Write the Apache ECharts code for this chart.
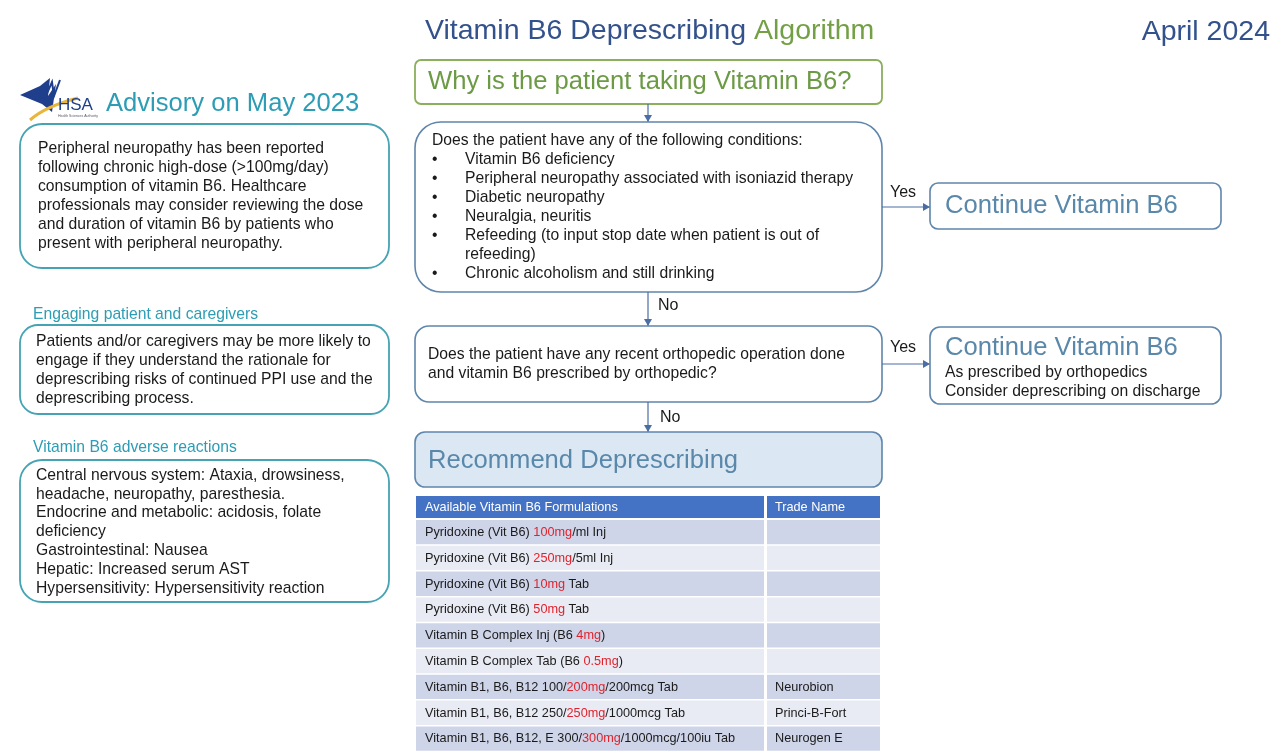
<!DOCTYPE html>
<html><head><meta charset="utf-8">
<script src="https://cdn.jsdelivr.net/npm/echarts@6/dist/echarts.min.js"></script>
<style>html,body{margin:0;padding:0;background:#fff}#c{width:1280px;height:756px}</style>
</head><body><div id="c"></div>
<script>
// ---------- DATA (text content) ----------
const titleMain = "Vitamin B6 Deprescribing";
const titleAccent = "Algorithm";
const dateLabel = "April 2024";
const startQuestion = "Why is the patient taking Vitamin B6?";
const q1Intro = "Does the patient have any of the following conditions:";
const q1Conditions = [
  ["Vitamin B6 deficiency"],
  ["Peripheral neuropathy associated with isoniazid therapy"],
  ["Diabetic neuropathy"],
  ["Neuralgia, neuritis"],
  ["Refeeding (to input stop date when patient is out of", "refeeding)"],
  ["Chronic alcoholism and still drinking"]
];
const q2Lines = ["Does the patient have any recent orthopedic operation done", "and vitamin B6 prescribed by orthopedic?"];
const branchYes = "Yes";
const branchNo = "No";
const continueTitle = "Continue Vitamin B6";
const continueNotes = ["As prescribed by orthopedics", "Consider deprescribing on discharge"];
const recommendText = "Recommend Deprescribing";
const tableHeader = ["Available Vitamin B6 Formulations", "Trade Name"];
const formulations = [
  ["Pyridoxine (Vit B6) ", "100mg", "/ml Inj"],
  ["Pyridoxine (Vit B6) ", "250mg", "/5ml Inj"],
  ["Pyridoxine (Vit B6) ", "10mg", " Tab"],
  ["Pyridoxine (Vit B6) ", "50mg", " Tab"],
  ["Vitamin B Complex Inj (B6 ", "4mg", ")"],
  ["Vitamin B Complex Tab (B6 ", "0.5mg", ")"],
  ["Vitamin B1, B6, B12 100/", "200mg", "/200mcg Tab"],
  ["Vitamin B1, B6, B12 250/", "250mg", "/1000mcg Tab"],
  ["Vitamin B1, B6, B12, E 300/", "300mg", "/1000mcg/100iu Tab"]
];
const tradeNames = ["", "", "", "", "", "", "Neurobion", "Princi-B-Fort", "Neurogen E"];
const logoText = "HSA";
const logoSub = "Health Sciences Authority";
const advisoryTitle = "Advisory on May 2023";
const advisoryLines = [
  "Peripheral neuropathy has been reported",
  "following chronic high-dose (>100mg/day)",
  "consumption of vitamin B6. Healthcare",
  "professionals may consider reviewing the dose",
  "and duration of vitamin B6 by patients who",
  "present with peripheral neuropathy."
];
const engagingTitle = "Engaging patient and caregivers";
const engagingLines = [
  "Patients and/or caregivers may be more likely to",
  "engage if they understand the rationale for",
  "deprescribing risks of continued PPI use and the",
  "deprescribing process."
];
const adverseTitle = "Vitamin B6 adverse reactions";
const adverseLines = [
  "Central nervous system: Ataxia, drowsiness,",
  "headache, neuropathy, paresthesia.",
  "Endocrine and metabolic: acidosis, folate",
  "deficiency",
  "Gastrointestinal: Nausea",
  "Hepatic: Increased serum AST",
  "Hypersensitivity: Hypersensitivity reaction"
];

// ---------- STYLE / LAYOUT ----------
const FONT = '"Liberation Sans", Arial, sans-serif';
const C = {
  navy: '#33528c', green: '#74a045', greenBox: '#8caf5e', greenText: '#6c9a45',
  blueBox: '#5f86ab', contText: '#5a88aa', teal: '#2c9db4', tealBox: '#45a3b3',
  ink: '#1a1a1a', arrow: '#4a6ea3', head: '#4472c4', rowA: '#cfd5e9', rowB: '#e8ebf4',
  red: '#e0222c', recFill: '#dbe8f4'
};
const BODY = 15.7, BIG = 25.6, TAB = 12.7;

const g = [];
function rrect(x, y, w, h, r, stroke, fill, lw) {
  g.push({type: 'rect', shape: {x, y, width: w, height: h, r}, style: {fill: fill || '#fff', stroke, lineWidth: lw || 1.6}});
}
function txt(x, y, text, size, color, extra) {
  g.push({type: 'text', x, y, style: Object.assign({text, font: size + 'px ' + FONT, fill: color, verticalAlign: 'middle', align: 'left'}, extra || {})});
}
function arrow(x1, y1, x2, y2) {
  g.push({type: 'line', shape: {x1, y1, x2, y2}, style: {stroke: C.arrow, lineWidth: 1.2}});
  let pts;
  if (x1 === x2) pts = [[x2 - 4, y2 - 7], [x2 + 4, y2 - 7], [x2, y2]];
  else pts = [[x2 - 7, y2 - 4], [x2 - 7, y2 + 4], [x2, y2]];
  g.push({type: 'polygon', shape: {points: pts}, style: {fill: C.arrow}});
}

// Title
g.push({type: 'text', x: 425, y: 31, style: {
  text: '{a|' + titleMain + ' }{b|' + titleAccent + '}', verticalAlign: 'middle', align: 'left',
  rich: {a: {fill: C.navy, font: '28.5px ' + FONT}, b: {fill: C.green, font: '28.5px ' + FONT}}
}});
txt(1270, 32, dateLabel, 28.5, C.navy, {align: 'right'});

// Start box
rrect(415, 60, 467, 44, 6, C.greenBox, '#fff', 1.8);
txt(428, 82, startQuestion, BIG, C.greenText);
arrow(648, 104, 648, 122);

// Question 1
rrect(415, 122, 467, 170, 26, C.blueBox, '#fff', 1.6);
txt(432, 141, q1Intro, BODY, C.ink);
let yy = 159.5;
q1Conditions.forEach(c => {
  txt(432, yy, '•', BODY, C.ink);
  c.forEach(line => { txt(465, yy, line, BODY, C.ink); yy += 19; });
});

// Yes 1
arrow(882, 207, 930, 207);
txt(890, 193, branchYes, 16, C.ink);
rrect(930, 183, 291, 46, 8, C.blueBox, '#fff', 1.6);
txt(945, 206, continueTitle, BIG, C.contText);

// No 1
arrow(648, 292, 648, 326);
txt(658, 306, branchNo, 16, C.ink);

// Question 2
rrect(415, 326, 467, 76, 14, C.blueBox, '#fff', 1.6);
q2Lines.forEach((l, i) => txt(428, 355 + i * 19, l, BODY, C.ink));

// Yes 2
arrow(882, 364, 930, 364);
txt(890, 348, branchYes, 16, C.ink);
rrect(930, 327, 291, 77, 10, C.blueBox, '#fff', 1.6);
txt(945, 348, continueTitle, BIG, C.contText);
continueNotes.forEach((l, i) => txt(945, 373 + i * 18.5, l, BODY, C.ink));

// No 2
arrow(648, 402, 648, 432);
txt(660, 418, branchNo, 16, C.ink);

// Recommend
rrect(415, 432, 467, 55, 10, C.blueBox, C.recFill, 1.6);
txt(428, 461, recommendText, BIG, C.contText);

// Table
const tx1 = 416, tw1 = 348, tx2 = 767, tw2 = 113;
g.push({type: 'rect', shape: {x: tx1, y: 496, width: tw1, height: 22}, style: {fill: C.head}});
g.push({type: 'rect', shape: {x: tx2, y: 496, width: tw2, height: 22}, style: {fill: C.head}});
txt(425, 507.5, tableHeader[0], TAB, '#fff');
txt(775, 507.5, tableHeader[1], TAB, '#fff');
const rowH = 25.8, row0 = 520;
formulations.forEach((f, i) => {
  const y = row0 + i * rowH;
  const fill = i % 2 === 0 ? C.rowA : C.rowB;
  g.push({type: 'rect', shape: {x: tx1, y, width: tw1, height: rowH - 1.5}, style: {fill}});
  g.push({type: 'rect', shape: {x: tx2, y, width: tw2, height: rowH - 1.5}, style: {fill}});
  g.push({type: 'text', x: 425, y: y + rowH / 2 - 0.5, style: {
    text: '{n|' + f[0] + '}{r|' + f[1] + '}{n|' + f[2] + '}',
    verticalAlign: 'middle', align: 'left',
    rich: {n: {fill: C.ink, font: TAB + 'px ' + FONT}, r: {fill: C.red, font: TAB + 'px ' + FONT}}
  }});
  if (tradeNames[i]) txt(775, y + rowH / 2 - 0.5, tradeNames[i], TAB, C.ink);
});

// Logo
g.push({type: 'polygon', shape: {points: [[20, 95], [40, 86], [50, 78], [48, 96], [56, 84], [52, 112], [42, 104]]}, style: {fill: '#1f3f8c'}});
g.push({type: 'polyline', shape: {points: [[44, 100], [52, 82], [54, 96], [60, 80]]}, style: {stroke: '#1f3f8c', lineWidth: 2, fill: null}});
g.push({type: 'bezierCurve', shape: {x1: 30, y1: 120, x2: 78, y2: 98, cpx1: 46, cpy1: 106}, style: {stroke: '#e9b53a', lineWidth: 3, fill: null}});
txt(58, 105, logoText, 17, '#1f3f8c');
txt(58, 116, logoSub, 3.5, '#556');

// Left panels
txt(106, 104, advisoryTitle, BIG, C.teal);
rrect(20, 124, 369, 144, 22, C.tealBox, '#fff', 1.8);
advisoryLines.forEach((l, i) => txt(38, 149 + i * 19, l, BODY, C.ink));

txt(33, 315, engagingTitle, BODY, C.teal);
rrect(20, 325, 369, 89, 18, C.tealBox, '#fff', 1.8);
engagingLines.forEach((l, i) => txt(36, 342 + i * 19, l, BODY, C.ink));

txt(33, 448, adverseTitle, BODY, C.teal);
rrect(20, 460, 369, 142, 22, C.tealBox, '#fff', 1.8);
adverseLines.forEach((l, i) => txt(36, 475.5 + i * 18.8, l, BODY, C.ink));

const chart = echarts.init(document.getElementById('c'), null, {renderer: 'canvas'});
chart.setOption({backgroundColor: '#fff', animation: false, graphic: {elements: g}});
</script></body></html>
